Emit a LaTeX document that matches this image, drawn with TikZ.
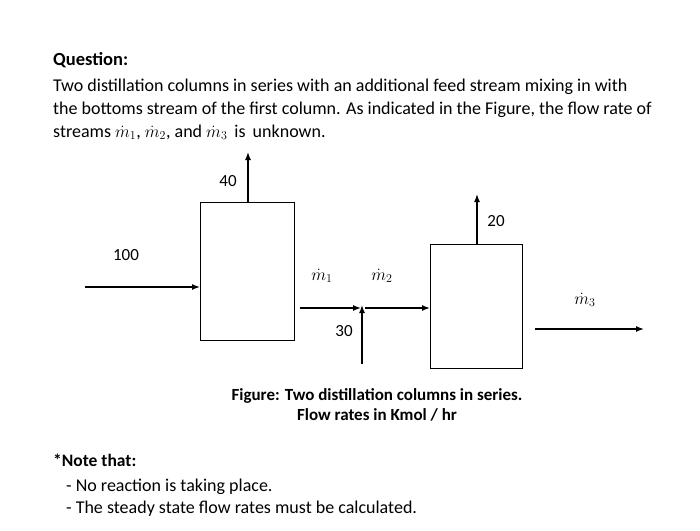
\documentclass[tikz,border=0pt]{standalone}
\usepackage{fontspec}
\setmainfont{Carlito}
\usetikzlibrary{arrows.meta}
\begin{document}
\begin{tikzpicture}[x=1pt,y=-1pt,
  box/.style={draw,line width=1pt},
  flow/.style={-{Latex[length=8pt,width=6pt]},line width=1.4pt},
  txt/.style={anchor=base west,inner sep=0pt,font=\fontsize{18}{21}\selectfont},
  lbl/.style={inner sep=0pt,font=\fontsize{17}{19}\selectfont}]
\useasboundingbox (0,0) rectangle (700,530);
\node[txt,font=\bfseries\fontsize{18.5}{21}\selectfont] (q) at (53,65) {Question:};
\node[txt] (l1) at (53,91) {Two distillation columns in series with an additional feed stream mixing in with};
\node[txt] (l2) at (53,114) {the bottoms stream of the first column. As indicated in the Figure, the flow rate of};
\node[txt] (l3) at (53,137) {streams $\dot m_1$, $\dot m_2$, and $\dot m_3$\, is\, unknown.};
\node[box,minimum width=94pt,minimum height=138pt,anchor=north west,inner sep=0pt] (c1) at (200,202) {};
\node[box,minimum width=92pt,minimum height=124pt,anchor=north west,inner sep=0pt] (c2) at (430,244) {};
\coordinate (in) at (85,287);
\coordinate (top1) at (248,152);
\coordinate (m1s) at (300,308);
\coordinate (mix) at (362,308);
\coordinate (m2s) at (365,308);
\coordinate (f30) at (362,364);
\coordinate (top2) at (477,194);
\coordinate (m3s) at (535,329);
\coordinate (m3e) at (644,329);
\draw[flow] (in) -- (c1.west |- in);
\draw[flow] (c1.north -| top1) -- (top1);
\draw[flow] (m1s) -- ([xshift=-1pt]mix);
\draw[flow] (m2s) -- (c2.west |- m2s);
\draw[flow] (f30) -- ([yshift=3pt]mix);
\draw[flow] (c2.north -| top2) -- (top2);
\draw[flow] (m3s) -- (m3e);
\node[lbl] (n40) at (228,181) {40};
\node[lbl] (n100) at (126,255) {100};
\node[lbl] (nm1) at (322,276) {$\dot m_1$};
\node[lbl] (nm2) at (382,276) {$\dot m_2$};
\node[lbl] (n30) at (344,331) {30};
\node[lbl] (n20) at (496,221) {20};
\node[lbl] (nm3) at (585,300) {$\dot m_3$};
\node[lbl,font=\bfseries\fontsize{17}{20}\selectfont,align=center] (cap) at (377,405) {Figure: Two distillation columns in series.\\Flow rates in Kmol / hr};
\node[txt,font=\bfseries\fontsize{17.5}{20}\selectfont] (nt) at (53,466) {*Note that:};
\node[txt] (n1) at (66,491) {- No reaction is taking place.};
\node[txt] (n2) at (66,513) {- The steady state flow rates must be calculated.};
\end{tikzpicture}
\end{document}
